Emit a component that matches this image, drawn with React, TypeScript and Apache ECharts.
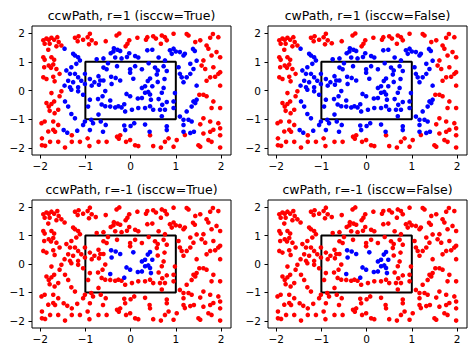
import { useEffect, useRef } from "react";
import * as echarts from "echarts";

// Points (the same points are used in all four panels)
const topBandPoints: number[][] = [
  [-1.93, 1.75], [-1.86, 1.81], [-1.81, 1.77], [-1.75, 1.84], [-1.69, 1.77], [-1.9, 1.63], [-1.79, 1.63],
  [-1.59, 1.69], [-1.53, 1.57], [-1.64, 1.54], [-1.62, 1.86], [-1.82, 1.42], [-1.23, 1.84], [-1.15, 1.89],
  [-1.17, 1.72], [-1.05, 1.77], [-0.95, 1.86], [-0.86, 1.75], [-0.92, 1.61], [-0.9, 1.98],
  [-1.46, 1.46], [-1.27, 1.28],
  [-0.77, 1.65], [-0.55, 1.72], [-0.31, 1.92], [-0.25, 1.99], [-0.07, 1.63], [-0.03, 1.75], [0.15, 1.84],
  [0.34, 1.77], [0.37, 1.86], [0.5, 1.89], [0.56, 1.81], [0.67, 1.63], [-0.11, 1.54],
  [-0.37, 1.47], [-0.29, 1.42], [-0.38, 1.36], [-0.23, 1.38], [-0.44, 1.3], [-0.03, 1.3], [0.37, 1.4], [0.48, 1.42],
  [0.69, 1.92], [0.76, 1.86], [0.8, 1.75], [0.95, 1.98], [1.24, 1.97], [1.28, 1.92], [1.43, 1.69], [1.54, 1.75],
  [1.76, 1.84], [1.82, 1.97], [1.68, 1.57], [1.72, 1.46], [1.9, 1.34], [1.94, 1.86],
  [0.87, 1.4], [0.95, 1.46], [1.0, 1.36], [0.91, 1.28], [1.09, 1.34], [1.2, 1.28], [1.38, 1.45], [1.42, 1.38],
];

const leftBandPoints: number[][] = [
  [-1.93, 1.16], [-1.9, 1.07], [-1.75, 1.16], [-1.69, 1.07], [-1.81, 0.87], [-1.71, 0.91], [-1.76, 0.79],
  [-1.91, 0.81], [-1.64, 0.75], [-1.93, 0.46], [-1.86, 0.4], [-1.71, 0.48], [-1.68, 0.32], [-1.57, 0.58],
  [-1.75, -0.09], [-1.53, -0.03], [-1.57, -0.2], [-1.86, -0.44], [-1.81, -0.56], [-1.75, -0.47], [-1.69, -0.38],
  [-1.79, -0.71], [-1.68, -0.79], [-1.6, -0.67], [-1.97, -1.14], [-1.9, -1.08], [-1.71, -1.08], [-1.6, -1.2],
  [-1.23, 1.22], [-1.16, 1.16], [-1.12, 1.05], [-1.2, 0.93], [-1.31, 0.81], [-1.42, 0.7], [-1.34, 0.58],
  [-1.23, 0.58], [-1.16, 0.46], [-1.09, 0.34], [-1.38, 0.34], [-1.27, 0.29], [-1.46, 0.17], [-1.34, 0.11],
  [-1.16, 0.11], [-1.01, 0.58], [-0.9, 0.4], [-0.86, 0.17], [-1.01, 0.23], [-0.8, 0.29],
  [-1.31, 0.03], [-1.16, -0.03], [-1.05, -0.15], [-1.45, -0.38], [-1.31, -0.82], [-1.23, -0.97], [-1.05, -1.2],
  [-1.01, -1.08], [-0.83, -1.14], [-0.87, -1.02], [-0.94, -0.56], [-0.9, -0.32], [-1.38, -0.56],
];

const centerPoints: number[][] = [
  [-0.43, 0.48], [-0.33, 0.44], [-0.23, 0.35], [-0.42, 0.23], [0.06, 0.41], [0.43, 0.42], [0.38, 0.33],
  [0.48, 0.15], [0.32, 0.15], [0.25, 0.09], [-0.09, -0.12], [-0.01, -0.2], [0.32, -0.08], [0.39, -0.05],
  [0.43, -0.14], [0.16, -0.28], [0.25, -0.26], [0.45, -0.32], [-0.45, -0.35], [-0.14, -0.48],
  [-0.71, 0.5], [-0.6, 0.8], [-0.53, 0.74], [-0.67, 0.35], [-0.6, 0.35], [-0.56, -0.02], [-0.64, -0.49],
  [-0.56, -0.55], [-0.45, -0.56], [-0.34, -0.59], [-0.27, -0.55], [-0.2, -0.59], [-0.12, -0.73], [0.03, -0.67],
  [0.17, -0.61], [0.32, -0.61], [0.43, -0.55], [0.5, -0.67], [0.65, -0.67], [0.76, -0.67], [0.73, 0.09],
  [0.69, -0.08], [0.58, 0.56], [0.54, 0.8], [0.73, 0.85], [0.8, 0.68], [-0.01, 0.74], [-0.01, 0.62],
  [0.1, 0.85], [0.25, 0.74], [-0.34, 1.15], [-0.2, 1.12], [-0.08, 1.17], [0.1, 1.2], [0.17, 1.15],
  [0.62, 1.15], [0.76, 1.05], [-0.75, 1.09], [-0.6, 1.12], [0.69, -0.9], [-0.71, -0.84],
  [-0.7, 0.2], [-0.72, -0.3], [-0.62, -0.2], [0.6, 0.3], [0.75, 0.4], [0.62, -0.3], [0.8, -0.4],
  [0.7, -0.5], [-0.5, 0.95], [-0.3, 0.85], [0.4, 0.95], [0.6, 0.7],
  [-0.66, -1.08], [-0.55, -1.2], [-0.14, -1.22], [0.0, -1.24], [0.08, -1.14], [0.32, -1.19], [0.8, -1.25],
];

const rightBandPoints: number[][] = [
  [1.79, 1.22], [1.98, 1.16], [1.57, 0.87], [1.65, 0.75], [1.83, 0.81], [1.98, 0.64], [1.94, 0.58],
  [1.87, 0.48], [1.76, 0.46], [1.68, 0.34], [1.98, 0.17], [1.61, 1.05],
  [1.52, -0.15], [1.61, -0.15], [1.68, -0.2], [1.83, -0.38], [1.98, -0.61], [1.79, -0.61], [1.76, -1.08],
  [1.94, -1.14], [1.61, -0.97], [1.54, -1.18],
  [1.17, 1.22], [1.46, 1.04], [1.32, 0.93], [1.39, 0.75], [1.32, 0.58], [1.24, 0.46], [1.17, 0.29],
  [1.46, 0.17], [1.06, 0.81], [1.09, 0.58], [1.13, 0.46],
  [1.09, -0.91], [1.17, -1.02], [1.28, -1.02], [1.35, -1.08], [1.17, -1.2], [1.43, -0.44], [1.39, -0.38],
  [1.35, -0.56], [1.46, -0.32], [1.24, -0.73], [0.95, -0.61], [0.95, -0.38], [0.98, -0.09],
];

const bottomBandPoints: number[][] = [
  [-1.96, -1.67], [-1.96, -1.91], [-1.89, -1.93], [-1.78, -1.79], [-1.67, -1.44], [-1.6, -1.79], [-1.45, -1.99],
  [-1.48, -1.38], [-1.3, -1.79], [-1.3, -1.56], [-1.18, -1.4], [-1.12, -1.79], [-0.95, -1.67], [-0.91, -1.94],
  [-0.71, -1.79], [-0.61, -1.44], [-0.53, -1.79], [-0.3, -1.61], [-0.23, -1.56], [-0.12, -1.38], [-0.1, -1.79],
  [-0.01, -1.73], [0.1, -1.91], [0.17, -1.94], [0.42, -1.44], [0.43, -1.56], [0.5, -1.94], [0.67, -1.99],
  [0.76, -1.79], [0.8, -1.38], [0.84, -1.67], [0.95, -1.96], [1.02, -1.73], [1.17, -1.44], [1.32, -1.48],
  [1.4, -1.44], [1.5, -1.91], [1.61, -1.5], [1.72, -1.73], [1.76, -1.44], [1.79, -1.79], [1.98, -1.32],
  [1.98, -1.56], [1.98, -1.99], [-1.4, -1.47], [-0.9, -1.38], [-0.26, -1.68], [1.2, -1.55], [1.54, -1.96],
  [-1.82, -1.43], [-1.71, -1.37], [1.83, -1.37],
];

const panelTitles = [
  "ccwPath, r=1 (isccw=True)",
  "cwPath, r=1 (isccw=False)",
  "ccwPath, r=-1 (isccw=True)",
  "cwPath, r=-1 (isccw=False)",
];
const panelRadii = [1, 1, -1, -1];
const tickValues = [-2, -1, 0, 1, 2];
const squarePath = [[-1, -1], [1, -1], [1, 1], [-1, 1], [-1, -1]];

const allPoints = [...topBandPoints, ...leftBandPoints, ...centerPoints, ...rightBandPoints, ...bottomBandPoints];

const FONT = "DejaVu Sans";
const gridPos = [
  { left: 32, top: 26, height: 129 },
  { left: 268, top: 26, height: 129 },
  { left: 32, top: 200, height: 128 },
  { left: 268, top: 200, height: 128 },
];
const GRID_W = 199;

function isInside(p: number[], r: number) {
  const half = 1 + 0.5 * r;
  return Math.max(Math.abs(p[0]), Math.abs(p[1])) < half;
}

const fmt = (v: number) => String(v).replace("-", "\u2212");

export default function App() {
  const ref = useRef<HTMLDivElement>(null);
  useEffect(() => {
    document.body.style.margin = "0";
    if (!ref.current) return;
    const chart = echarts.init(ref.current, undefined, { renderer: "svg" });
    const grid = gridPos.map((g) => ({
      left: g.left, top: g.top, width: GRID_W, height: g.height,
      show: true, borderColor: "#000", borderWidth: 1, backgroundColor: "transparent",
    }));
    const axisCommon = {
      type: "value" as const,
      axisLine: { show: false, onZero: false },
      splitLine: { show: false },
      axisTick: { show: true, inside: false, length: 3.5, lineStyle: { color: "#000", width: 1 }, customValues: tickValues },
    };
    const xAxis = gridPos.map((_, i) => ({
      ...axisCommon,
      gridIndex: i,
      position: "bottom",
      min: -2.18,
      max: 2.22,
      axisLabel: {
        customValues: tickValues, formatter: fmt, margin: 5,
        fontFamily: FONT, fontSize: 10.5, color: "#000",
      },
    }));
    const yAxis = gridPos.map((_, i) => ({
      ...axisCommon,
      gridIndex: i,
      position: "left",
      min: -2.25,
      max: 2.25,
      axisLabel: {
        customValues: tickValues, formatter: fmt, margin: 7,
        fontFamily: FONT, fontSize: 10.5, color: "#000",
      },
    }));
    const series: any[] = [];
    panelRadii.forEach((r, i) => {
      series.push({
        type: "line", xAxisIndex: i, yAxisIndex: i, data: squarePath, symbol: "none",
        lineStyle: { color: "#000", width: 2 }, z: 1, silent: true,
      });
      series.push({
        type: "scatter", xAxisIndex: i, yAxisIndex: i, symbolSize: 4.6,
        data: allPoints.filter((p) => !isInside(p, r)),
        itemStyle: { color: "#ff0000", opacity: 1 }, z: 2,
      });
      series.push({
        type: "scatter", xAxisIndex: i, yAxisIndex: i, symbolSize: 4.6,
        data: allPoints.filter((p) => isInside(p, r)),
        itemStyle: { color: "#0000ff", opacity: 1 }, z: 2,
      });
    });
    const graphic = panelTitles.map((t, i) => ({
      type: "text",
      x: gridPos[i].left + GRID_W / 2,
      y: gridPos[i].top - 11,
      style: {
        text: t, fontFamily: FONT, fontSize: 12.5, fill: "#000",
        align: "center", verticalAlign: "middle",
      },
    }));
    chart.setOption({
      animation: false,
      backgroundColor: "#fff",
      grid, xAxis, yAxis, series, graphic,
    });
    return () => chart.dispose();
  }, []);
  return <div ref={ref} style={{ width: 474, height: 353 }} />;
}
